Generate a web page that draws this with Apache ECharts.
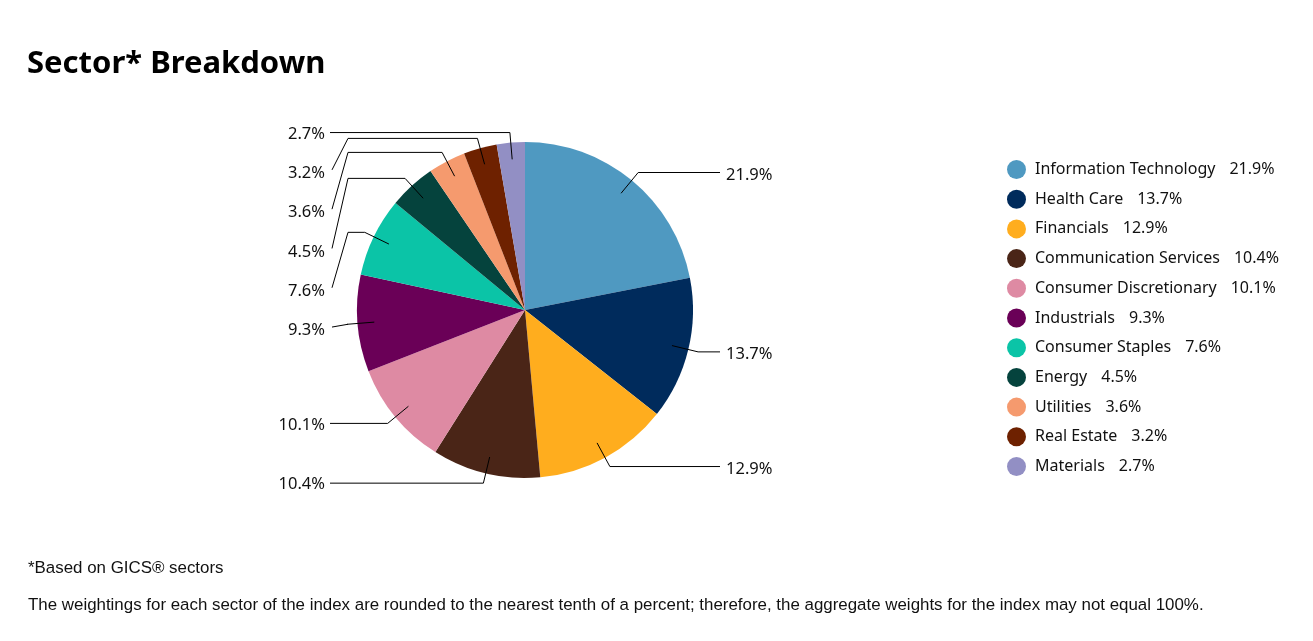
<!DOCTYPE html>
<html>
<head>
<meta charset="utf-8">
<script src="https://cdn.jsdelivr.net/npm/echarts@6/dist/echarts.min.js"></script>
<style>
html,body{margin:0;padding:0;background:#fff;}
#chart{width:1313px;height:641px;}
</style>
</head>
<body>
<div id="chart"></div>
<script>
const categories = ['Information Technology','Health Care','Financials','Communication Services','Consumer Discretionary','Industrials','Consumer Staples','Energy','Utilities','Real Estate','Materials'];
const values = [21.9, 13.7, 12.9, 10.4, 10.1, 9.3, 7.6, 4.5, 3.6, 3.2, 2.7];
const colors = ['#4f99c1','#002b5c','#ffad1e','#4a2517','#de8aa3','#6a0057','#0bc4a7','#05433d','#f59a6e','#6e2100','#928fc4'];
const titleText = 'Sector* Breakdown';
const footnote1 = '*Based on GICS\u00ae sectors';
const footnote2 = 'The weightings for each sector of the index are rounded to the nearest tenth of a percent; therefore, the aggregate weights for the index may not equal 100%.';

const CX = 525, CY = 310, R = 168;
const FONT = "'Noto Sans', 'Liberation Sans', sans-serif";
const FOOT_FONT = "'Liberation Sans', sans-serif";

// label layout derived from data
const total = values.reduce((a, b) => a + b, 0);
let cum = 0;
const geo = values.map(v => {
  const a = (cum + v / 2) / total * 2 * Math.PI;
  cum += v;
  const s = Math.sin(a), c = Math.cos(a);
  return {
    right: s > 0,
    p0: [CX + 0.9 * R * s, CY - 0.9 * R * c],
    p1: [CX + 1.06 * R * s, CY - 1.06 * R * c]
  };
});
geo.forEach(g => { g.ly = g.p1[1]; });
const leftIdx = geo.map((g, i) => i).filter(i => !geo[i].right).sort((a, b) => geo[a].p1[1] - geo[b].p1[1]);
const GAP = 39.3;
for (let k = 1; k < leftIdx.length; k++) {
  const prev = geo[leftIdx[k - 1]], cur = geo[leftIdx[k]];
  cur.ly = Math.max(cur.p1[1], prev.ly + GAP);
}

const pieData = categories.map((n, i) => ({name: n, value: values[i]}));

const chart = echarts.init(document.getElementById('chart'), null, {renderer: 'canvas'});
const option = {
  animation: false,
  color: colors,
  title: [
    {text: titleText, left: 27, top: 49, padding: 0, textStyle: {fontFamily: FONT, fontSize: 31, fontWeight: 'bold', color: '#000'}},
    {text: footnote1, left: 28, top: 560, padding: 0, textStyle: {fontFamily: FOOT_FONT, fontSize: 16.9, fontWeight: 'normal', color: '#111'}},
    {text: footnote2, left: 28, top: 597, padding: 0, textStyle: {fontFamily: FOOT_FONT, fontSize: 16.9, fontWeight: 'normal', color: '#111'}}
  ],
  legend: {
    orient: 'vertical',
    left: 1002,
    top: 155,
    icon: 'circle',
    itemWidth: 19,
    itemHeight: 19,
    itemGap: 10.7,
    selectedMode: false,
    data: categories,
    formatter: function (name) {
      const i = categories.indexOf(name);
      return '{n|' + name + '}{v|' + values[i].toFixed(1) + '%}';
    },
    textStyle: {
      fontFamily: FONT,
      fontSize: 16,
      color: '#111',
      rich: {
        n: {fontFamily: FONT, fontSize: 16, color: '#111', padding: [0, 0, 0, 4]},
        v: {fontFamily: FONT, fontSize: 16, color: '#111', padding: [0, 0, 0, 14]}
      }
    }
  },
  series: [{
    name: 'slices',
    type: 'pie',
    z: 2,
    center: [CX, CY],
    radius: R,
    startAngle: 90,
    clockwise: true,
    silent: true,
    emphasis: {disabled: true},
    itemStyle: {borderWidth: 0},
    data: pieData,
    label: {show: false},
    labelLine: {show: false}
  }, {
    name: 'labels',
    type: 'pie',
    z: 5,
    center: [CX, CY],
    radius: R,
    startAngle: 90,
    clockwise: true,
    silent: true,
    legendHoverLink: false,
    emphasis: {disabled: true},
    itemStyle: {color: 'rgba(0,0,0,0)', borderWidth: 0},
    data: pieData,
    label: {
      show: true,
      position: 'outside',
      formatter: function (p) { return values[p.dataIndex].toFixed(1) + '%'; },
      fontFamily: FONT,
      fontSize: 16.5,
      color: '#111'
    },
    labelLine: {show: true, showAbove: true, length: 10, length2: 20, lineStyle: {color: '#000', width: 1}},
    labelLayout: function (params) {
      const g = geo[params.dataIndex];
      if (g.right) {
        const endX = 720;
        return {
          x: endX + 6, y: g.ly + 2.5, align: 'left', verticalAlign: 'middle',
          labelLinePoints: [g.p0, g.p1, [endX, g.p1[1]]]
        };
      }
      const endX = 330;
      let pts;
      if (Math.abs(g.ly - g.p1[1]) < 1) {
        pts = [g.p0, g.p1, [endX, g.p1[1]]];
      } else {
        pts = [g.p0, g.p1, [348, g.p1[1]], [endX + 2, g.ly - 2]];
      }
      return {
        x: endX - 5, y: g.ly + 1.5, align: 'right', verticalAlign: 'middle',
        labelLinePoints: pts
      };
    }
  }]
};
chart.setOption(option);
</script>
</body>
</html>
